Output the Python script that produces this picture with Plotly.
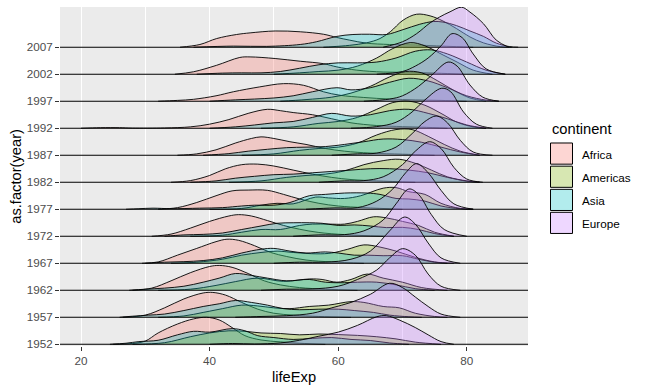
import plotly.graph_objects as go

# ---------------- data ----------------
years = [1952, 1957, 1962, 1967, 1972, 1977, 1982, 1987, 1992, 1997, 2002, 2007]
continents = ["Africa", "Americas", "Asia", "Europe"]
x_ticks = [20, 40, 60, 80]

# density ridge outlines: (lifeExp, scaled density height in row units)
africa = {
    1952: [(25, 0), (28, 0.03), (30, 0.12), (32, 0.42), (35, 0.75), (37.5, 0.94), (39.5, 1.0), (41.5, 0.9), (43.5, 0.62), (45.5, 0.32), (48, 0.16), (51, 0.09), (54, 0.04), (58, 0)],
    1957: [(26.5, 0), (30, 0.08), (33, 0.35), (36, 0.68), (39, 0.9), (40.5, 0.92), (42.5, 0.82), (45, 0.55), (47.5, 0.3), (50, 0.15), (53, 0.08), (57, 0.03), (62, 0)],
    1962: [(28, 0), (31, 0.08), (34, 0.35), (37, 0.65), (40, 0.88), (41.5, 0.92), (43.5, 0.85), (46, 0.62), (48.5, 0.35), (51, 0.2), (54, 0.1), (58, 0.04), (63, 0)],
    1967: [(29.5, 0), (32, 0.05), (35, 0.3), (38, 0.55), (41, 0.8), (42.7, 0.89), (44.5, 0.85), (47, 0.65), (49.5, 0.4), (52, 0.25), (55, 0.12), (59, 0.05), (64, 0)],
    1972: [(31, 0), (34, 0.08), (37, 0.3), (40, 0.55), (43, 0.75), (44.5, 0.8), (46.5, 0.75), (49, 0.58), (51.5, 0.4), (54, 0.26), (57, 0.14), (61, 0.06), (67, 0)],
    1977: [(32, 0), (35, 0.06), (38, 0.25), (41, 0.5), (43.5, 0.68), (46, 0.71), (49, 0.7), (51.5, 0.55), (54, 0.38), (57, 0.22), (60, 0.12), (64, 0.06), (70, 0)],
    1982: [(34, 0), (37, 0.06), (40, 0.25), (42.5, 0.5), (45, 0.65), (47.5, 0.67), (50, 0.6), (53, 0.45), (56, 0.3), (59, 0.18), (62, 0.1), (66, 0.05), (72, 0)],
    1987: [(35, 0), (38, 0.05), (41, 0.2), (44, 0.45), (46.5, 0.62), (48, 0.68), (50, 0.62), (52.5, 0.5), (55, 0.4), (58, 0.25), (61, 0.15), (65, 0.08), (70, 0.04), (75, 0)],
    1992: [(20, 0), (23, 0.02), (26, 0.02), (28, 0.005), (33, 0.01), (37, 0.05), (40, 0.15), (43, 0.32), (46, 0.55), (49, 0.7), (51, 0.65), (53, 0.58), (56, 0.5), (59, 0.35), (62, 0.2), (66, 0.1), (70, 0.06), (73, 0.04), (77, 0)],
    1997: [(32, 0), (35, 0.03), (37.5, 0.07), (41, 0.2), (43.7, 0.35), (47.8, 0.53), (51.5, 0.65), (54.6, 0.59), (57.7, 0.35), (60.3, 0.22), (63.9, 0.14), (68, 0.08), (72, 0.05), (76, 0.03), (80, 0)],
    2002: [(34.6, 0), (37.5, 0.09), (41.1, 0.33), (44.7, 0.62), (46.3, 0.64), (50.2, 0.58), (54.1, 0.48), (57.7, 0.39), (59.8, 0.27), (62.9, 0.15), (67, 0.08), (71.2, 0.07), (75.3, 0.04), (79.5, 0)],
    2007: [(35.4, 0), (38.5, 0.1), (41.1, 0.32), (44.2, 0.47), (46.3, 0.53), (50.2, 0.6), (54.1, 0.57), (57.7, 0.48), (59.8, 0.36), (61.8, 0.26), (64.4, 0.15), (68, 0.1), (72, 0.08), (75.3, 0.05), (78.4, 0.02), (81, 0)],
}

americas = {
    1952: [(28, 0), (33, 0.06), (37, 0.28), (40, 0.42), (43, 0.5), (45.5, 0.48), (48, 0.42), (51, 0.4), (54, 0.35), (57, 0.38), (60, 0.36), (63, 0.33), (66, 0.28), (69, 0.2), (72, 0.08), (76, 0)],
    1957: [(32, 0), (36, 0.05), (39, 0.18), (42, 0.32), (45, 0.45), (47.5, 0.42), (50, 0.35), (52.5, 0.32), (55.5, 0.4), (58.5, 0.45), (62, 0.58), (64, 0.55), (67, 0.4), (69.5, 0.35), (72, 0.15), (75, 0.03), (77, 0)],
    1962: [(32, 0), (37, 0.04), (41, 0.18), (44, 0.32), (47.5, 0.45), (51.5, 0.33), (55.6, 0.42), (57.5, 0.4), (59.8, 0.3), (62, 0.4), (64.5, 0.6), (67, 0.45), (70, 0.3), (73, 0.1), (77, 0)],
    1967: [(34, 0), (38, 0.04), (42, 0.15), (45, 0.3), (48, 0.4), (50.5, 0.45), (53, 0.4), (56.7, 0.35), (59, 0.38), (61.5, 0.52), (64, 0.68), (66.5, 0.6), (69, 0.45), (72, 0.22), (75, 0.05), (78, 0)],
    1972: [(37, 0), (42, 0.04), (45, 0.15), (48, 0.25), (51, 0.25), (54, 0.4), (56, 0.45), (58.5, 0.45), (61, 0.45), (63, 0.55), (65.5, 0.72), (67.5, 0.68), (70, 0.55), (72.5, 0.4), (75, 0.15), (78, 0)],
    1977: [(40, 0), (45, 0.03), (48, 0.15), (50.5, 0.22), (53, 0.2), (56.5, 0.45), (58.5, 0.42), (61, 0.4), (63.5, 0.5), (67, 0.78), (69, 0.8), (71, 0.65), (73.5, 0.55), (76, 0.22), (79, 0.03), (81, 0)],
    1982: [(43, 0), (48, 0.05), (52, 0.18), (55, 0.25), (58, 0.3), (61, 0.42), (64, 0.65), (67, 0.8), (69.5, 0.85), (72, 0.7), (74.5, 0.45), (77, 0.2), (80, 0.05), (82, 0)],
    1987: [(45, 0), (50, 0.05), (54, 0.18), (57, 0.25), (60, 0.3), (63, 0.45), (66, 0.75), (69, 0.95), (71.5, 0.95), (74, 0.7), (76.5, 0.4), (79, 0.15), (82, 0)],
    1992: [(48, 0), (53, 0.05), (57, 0.18), (60, 0.25), (63, 0.4), (66, 0.7), (68.5, 0.95), (71, 1.0), (73.5, 0.85), (76, 0.55), (78.5, 0.22), (81, 0.05), (83, 0)],
    1997: [(51, 0), (55, 0.06), (59, 0.15), (62, 0.3), (65, 0.55), (68, 0.9), (70.5, 1.1), (73, 1.05), (75.5, 0.75), (78, 0.4), (80.5, 0.12), (83, 0)],
    2002: [(50, 0), (54, 0.05), (57, 0.1), (60, 0.15), (63, 0.3), (66, 0.6), (68.5, 0.95), (71.2, 1.17), (73.5, 1.05), (76, 0.75), (78.5, 0.45), (81, 0.15), (84, 0)],
    2007: [(57.7, 0), (59.2, 0.02), (61.8, 0.07), (64.4, 0.16), (66.5, 0.32), (68.1, 0.57), (70.1, 1.0), (72.2, 1.22), (74.3, 1.16), (76.3, 0.97), (78.4, 0.69), (80.5, 0.38), (82.6, 0.16), (85.2, 0.02), (87, 0)],
}

asia = {
    1952: [(24.5, 0), (27, 0.04), (29, 0.1), (32, 0.15), (35, 0.35), (37.5, 0.48), (40, 0.45), (43.5, 0.58), (45.5, 0.5), (47.5, 0.32), (50, 0.25), (53, 0.18), (56, 0.22), (59, 0.25), (62, 0.18), (65, 0.14), (68, 0.05), (71, 0)],
    1957: [(26, 0), (28, 0.04), (30.5, 0.08), (33, 0.12), (36, 0.25), (39, 0.4), (41.5, 0.5), (44, 0.62), (46.5, 0.55), (49, 0.45), (51.5, 0.32), (54, 0.28), (57, 0.3), (60, 0.3), (62.5, 0.25), (65.5, 0.18), (68, 0.08), (71, 0.02), (73, 0)],
    1962: [(27.5, 0), (30, 0.04), (33, 0.08), (36, 0.15), (39, 0.3), (41.5, 0.45), (44, 0.62), (46.5, 0.55), (49, 0.45), (52, 0.35), (55.5, 0.4), (58, 0.3), (61, 0.28), (63, 0.3), (66, 0.3), (69, 0.2), (72, 0.06), (75, 0)],
    1967: [(30, 0), (33, 0.04), (36, 0.06), (39, 0.1), (42, 0.2), (45, 0.38), (48, 0.52), (50, 0.55), (52.5, 0.45), (55, 0.38), (58, 0.42), (60, 0.38), (62.5, 0.3), (64.5, 0.3), (67, 0.28), (70, 0.28), (72.5, 0.15), (75, 0.04), (77, 0)],
    1972: [(33, 0), (36, 0.05), (39, 0.07), (42, 0.12), (45, 0.25), (48, 0.38), (50.5, 0.48), (53, 0.5), (55.5, 0.5), (57.5, 0.48), (60, 0.4), (62.5, 0.42), (65, 0.38), (67.5, 0.32), (70, 0.33), (72.5, 0.25), (75, 0.1), (78, 0)],
    1977: [(27, 0), (29, 0.02), (31.2, 0.04), (34, 0.02), (38.4, 0.04), (42, 0.06), (45, 0.12), (47, 0.15), (50, 0.15), (52.5, 0.25), (55.5, 0.5), (58, 0.55), (61, 0.6), (64.5, 0.6), (66.5, 0.55), (69, 0.4), (71, 0.38), (73.5, 0.3), (76, 0.12), (79, 0.02), (81, 0)],
    1982: [(37, 0), (41, 0.05), (44, 0.15), (47, 0.22), (50, 0.28), (53, 0.3), (56, 0.35), (59, 0.4), (62, 0.45), (65, 0.5), (68, 0.5), (71, 0.45), (74, 0.35), (77, 0.18), (80, 0.04), (82, 0)],
    1987: [(39, 0), (43, 0.06), (46, 0.15), (49, 0.22), (52, 0.28), (55, 0.3), (58, 0.32), (61, 0.4), (64, 0.5), (67, 0.6), (70, 0.58), (73, 0.48), (76, 0.3), (79, 0.12), (82, 0)],
    1992: [(40, 0), (44, 0.05), (47, 0.12), (50, 0.2), (53, 0.25), (56, 0.4), (59, 0.55), (62, 0.45), (65, 0.5), (68, 0.65), (71, 0.7), (74, 0.55), (77, 0.35), (80, 0.12), (83, 0)],
    1997: [(40, 0), (44, 0.05), (47, 0.08), (50, 0.12), (53, 0.2), (56, 0.35), (59.8, 0.5), (62, 0.42), (65, 0.5), (68, 0.7), (71, 0.85), (74, 0.75), (77, 0.5), (80, 0.2), (83, 0.04), (85, 0)],
    2002: [(38, 0), (42, 0.04), (45, 0.05), (48, 0.05), (51, 0.1), (54, 0.22), (57, 0.35), (60, 0.42), (63, 0.42), (66, 0.45), (69, 0.6), (72, 0.85), (74.5, 0.9), (77, 0.75), (80, 0.45), (83, 0.15), (86, 0)],
    2007: [(37.5, 0), (43.7, 0.04), (48.9, 0.03), (54.1, 0.1), (56.6, 0.2), (59.8, 0.4), (62.3, 0.47), (64.9, 0.48), (67.5, 0.47), (70.1, 0.65), (72.7, 0.85), (74.8, 0.95), (76.3, 0.93), (78.4, 0.8), (80.5, 0.6), (82.6, 0.4), (84.6, 0.15), (86.7, 0.02), (88, 0)],
}

europe = {
    1952: [(40, 0), (43.6, 0.03), (47, 0.01), (51, 0.05), (54, 0.15), (57, 0.3), (60, 0.45), (63, 0.7), (66, 1.02), (67.5, 1.06), (69.5, 0.9), (72, 0.62), (74, 0.35), (76, 0.1), (78, 0)],
    1957: [(44, 0), (48, 0.03), (52, 0.06), (56, 0.15), (59, 0.35), (62, 0.55), (65, 0.85), (68, 1.26), (70, 1.1), (72, 0.75), (74, 0.4), (76, 0.12), (79, 0)],
    1962: [(48, 0), (52, 0.04), (56, 0.05), (60, 0.15), (63, 0.4), (66, 0.75), (68, 1.2), (70, 1.54), (72, 1.3), (74, 0.6), (76, 0.15), (79, 0)],
    1967: [(50, 0), (54, 0.04), (58, 0.04), (62, 0.15), (65, 0.45), (68, 1.2), (70.3, 1.71), (72, 1.45), (74, 0.75), (76, 0.2), (79, 0)],
    1972: [(53, 0), (57, 0.05), (61, 0.06), (64, 0.2), (67, 0.6), (69, 1.2), (71, 1.75), (72.5, 1.55), (74.5, 0.8), (76.5, 0.25), (80, 0)],
    1977: [(55, 0), (59.5, 0.05), (63, 0.06), (66, 0.3), (68.5, 0.75), (70.5, 1.35), (72.2, 1.69), (74, 1.35), (76, 0.7), (78, 0.2), (81, 0)],
    1982: [(57, 0), (61, 0.05), (64, 0.06), (67, 0.2), (70, 0.65), (72, 1.15), (74.2, 1.5), (76, 1.25), (78, 0.55), (80, 0.12), (82.5, 0)],
    1987: [(59, 0), (63, 0.05), (66, 0.08), (69, 0.3), (71.5, 0.8), (73.5, 1.25), (75.3, 1.45), (77, 1.2), (79, 0.55), (81, 0.12), (84, 0)],
    1992: [(62, 0), (66, 0.06), (69, 0.22), (71.5, 0.6), (73.5, 1.05), (76.1, 1.48), (77.5, 1.35), (79.5, 0.6), (81.5, 0.15), (84, 0)],
    1997: [(64, 0), (68, 0.08), (70, 0.2), (72.5, 0.55), (74.5, 0.95), (77.1, 1.45), (78.5, 1.3), (80.5, 0.6), (82.5, 0.15), (85, 0)],
    2002: [(66, 0), (70, 0.1), (72, 0.3), (74, 0.6), (76, 1.05), (77.7, 1.5), (79.3, 1.35), (81, 0.75), (83, 0.2), (86, 0)],
    2007: [(67, 0), (70, 0.2), (72.2, 0.5), (74.3, 0.9), (75.8, 1.12), (77.4, 1.31), (79.2, 1.48), (80.5, 1.3), (82.6, 0.87), (84.6, 0.26), (86.5, 0)],
}

fill_colors = ["rgba(248,118,109,0.3)", "rgba(124,174,0,0.3)", "rgba(0,191,196,0.3)", "rgba(199,124,255,0.3)"]

# ---------------- figure ----------------
X_MIN, X_MAX = 16.73, 89.53
FONT = "Liberation Sans, Arial, sans-serif"

fig = go.Figure()
series = [africa, americas, asia, europe]

for i in reversed(range(len(years))):
    yr = years[i]
    for cont, data, fc in zip(continents, series, fill_colors):
        pts = data[yr]
        xs = [p[0] for p in pts]
        ys = [i + p[1] for p in pts]
        fig.add_trace(go.Scatter(
            x=xs, y=ys, mode="lines", fill="toself", fillcolor=fc,
            line=dict(color="black", width=0.9, shape="spline", smoothing=1.0),
            hoverinfo="skip", showlegend=False, name=cont))
    fig.add_trace(go.Scatter(
        x=[X_MIN, X_MAX], y=[i, i], mode="lines",
        line=dict(color="black", width=1.1), hoverinfo="skip", showlegend=False))

# plot area in pixels
L, R, T, B = 60, 528, 6.5, 346
W, H = 647, 392

def px(xp):
    return (xp - L) / (R - L)

def py(yp):
    return (B - yp) / (B - T)

fig.update_layout(
    width=W, height=H,
    margin=dict(l=L, r=W - R, t=T, b=H - B, pad=0),
    paper_bgcolor="white", plot_bgcolor="#EBEBEB",
    font=dict(family=FONT),
    showlegend=False,
)
fig.update_xaxes(
    range=[X_MIN, X_MAX], tickvals=x_ticks, ticktext=[str(v) for v in x_ticks],
    showgrid=True, gridcolor="white", gridwidth=1.1,
    minor=dict(tickvals=[30, 50, 70], showgrid=True, gridcolor="white", gridwidth=0.55, ticks=""),
    zeroline=False, showline=False,
    ticks="outside", ticklen=4, tickwidth=1.1, tickcolor="#333333",
    tickfont=dict(family=FONT, size=11.7, color="#4D4D4D"),
)
fig.update_yaxes(
    range=[-0.063, 12.488], tickvals=list(range(len(years))), ticktext=[str(y) for y in years],
    showgrid=False, zeroline=False, showline=False,
    ticks="outside", ticklen=4, tickwidth=1.1, tickcolor="#333333",
    tickfont=dict(family=FONT, size=11.7, color="#4D4D4D"),
)

annotations = [
    dict(text="lifeExp", x=px(294), y=py(377), xref="paper", yref="paper",
         showarrow=False, xanchor="center", yanchor="middle",
         font=dict(family=FONT, size=14.7, color="black")),
    dict(text="as.factor(year)", x=px(16.5), y=py(176), xref="paper", yref="paper",
         showarrow=False, xanchor="center", yanchor="middle", textangle=-90,
         font=dict(family=FONT, size=14.7, color="black")),
    dict(text="continent", x=px(550), y=py(128.5), xref="paper", yref="paper",
         showarrow=False, xanchor="left", yanchor="middle",
         font=dict(family=FONT, size=14.7, color="black")),
]
shapes = []
key_centers = [153.3, 176.5, 199.7, 222.7]
for cont, fc, cy in zip(continents, fill_colors, key_centers):
    shapes.append(dict(type="rect", xref="paper", yref="paper",
                       x0=px(550.5), x1=px(572.5), y0=py(cy + 10.6), y1=py(cy - 10.6),
                       fillcolor=fc, line=dict(color="black", width=1)))
    annotations.append(dict(text=cont, x=px(580), y=py(cy + 0.5), xref="paper", yref="paper",
                            showarrow=False, xanchor="left", yanchor="middle",
                            font=dict(family=FONT, size=11.7, color="black")))
fig.update_layout(annotations=annotations, shapes=shapes)

fig.write_html("out.html", config={"displayModeBar": False},
               post_script="document.body.style.margin='0';document.body.style.padding='0';")
